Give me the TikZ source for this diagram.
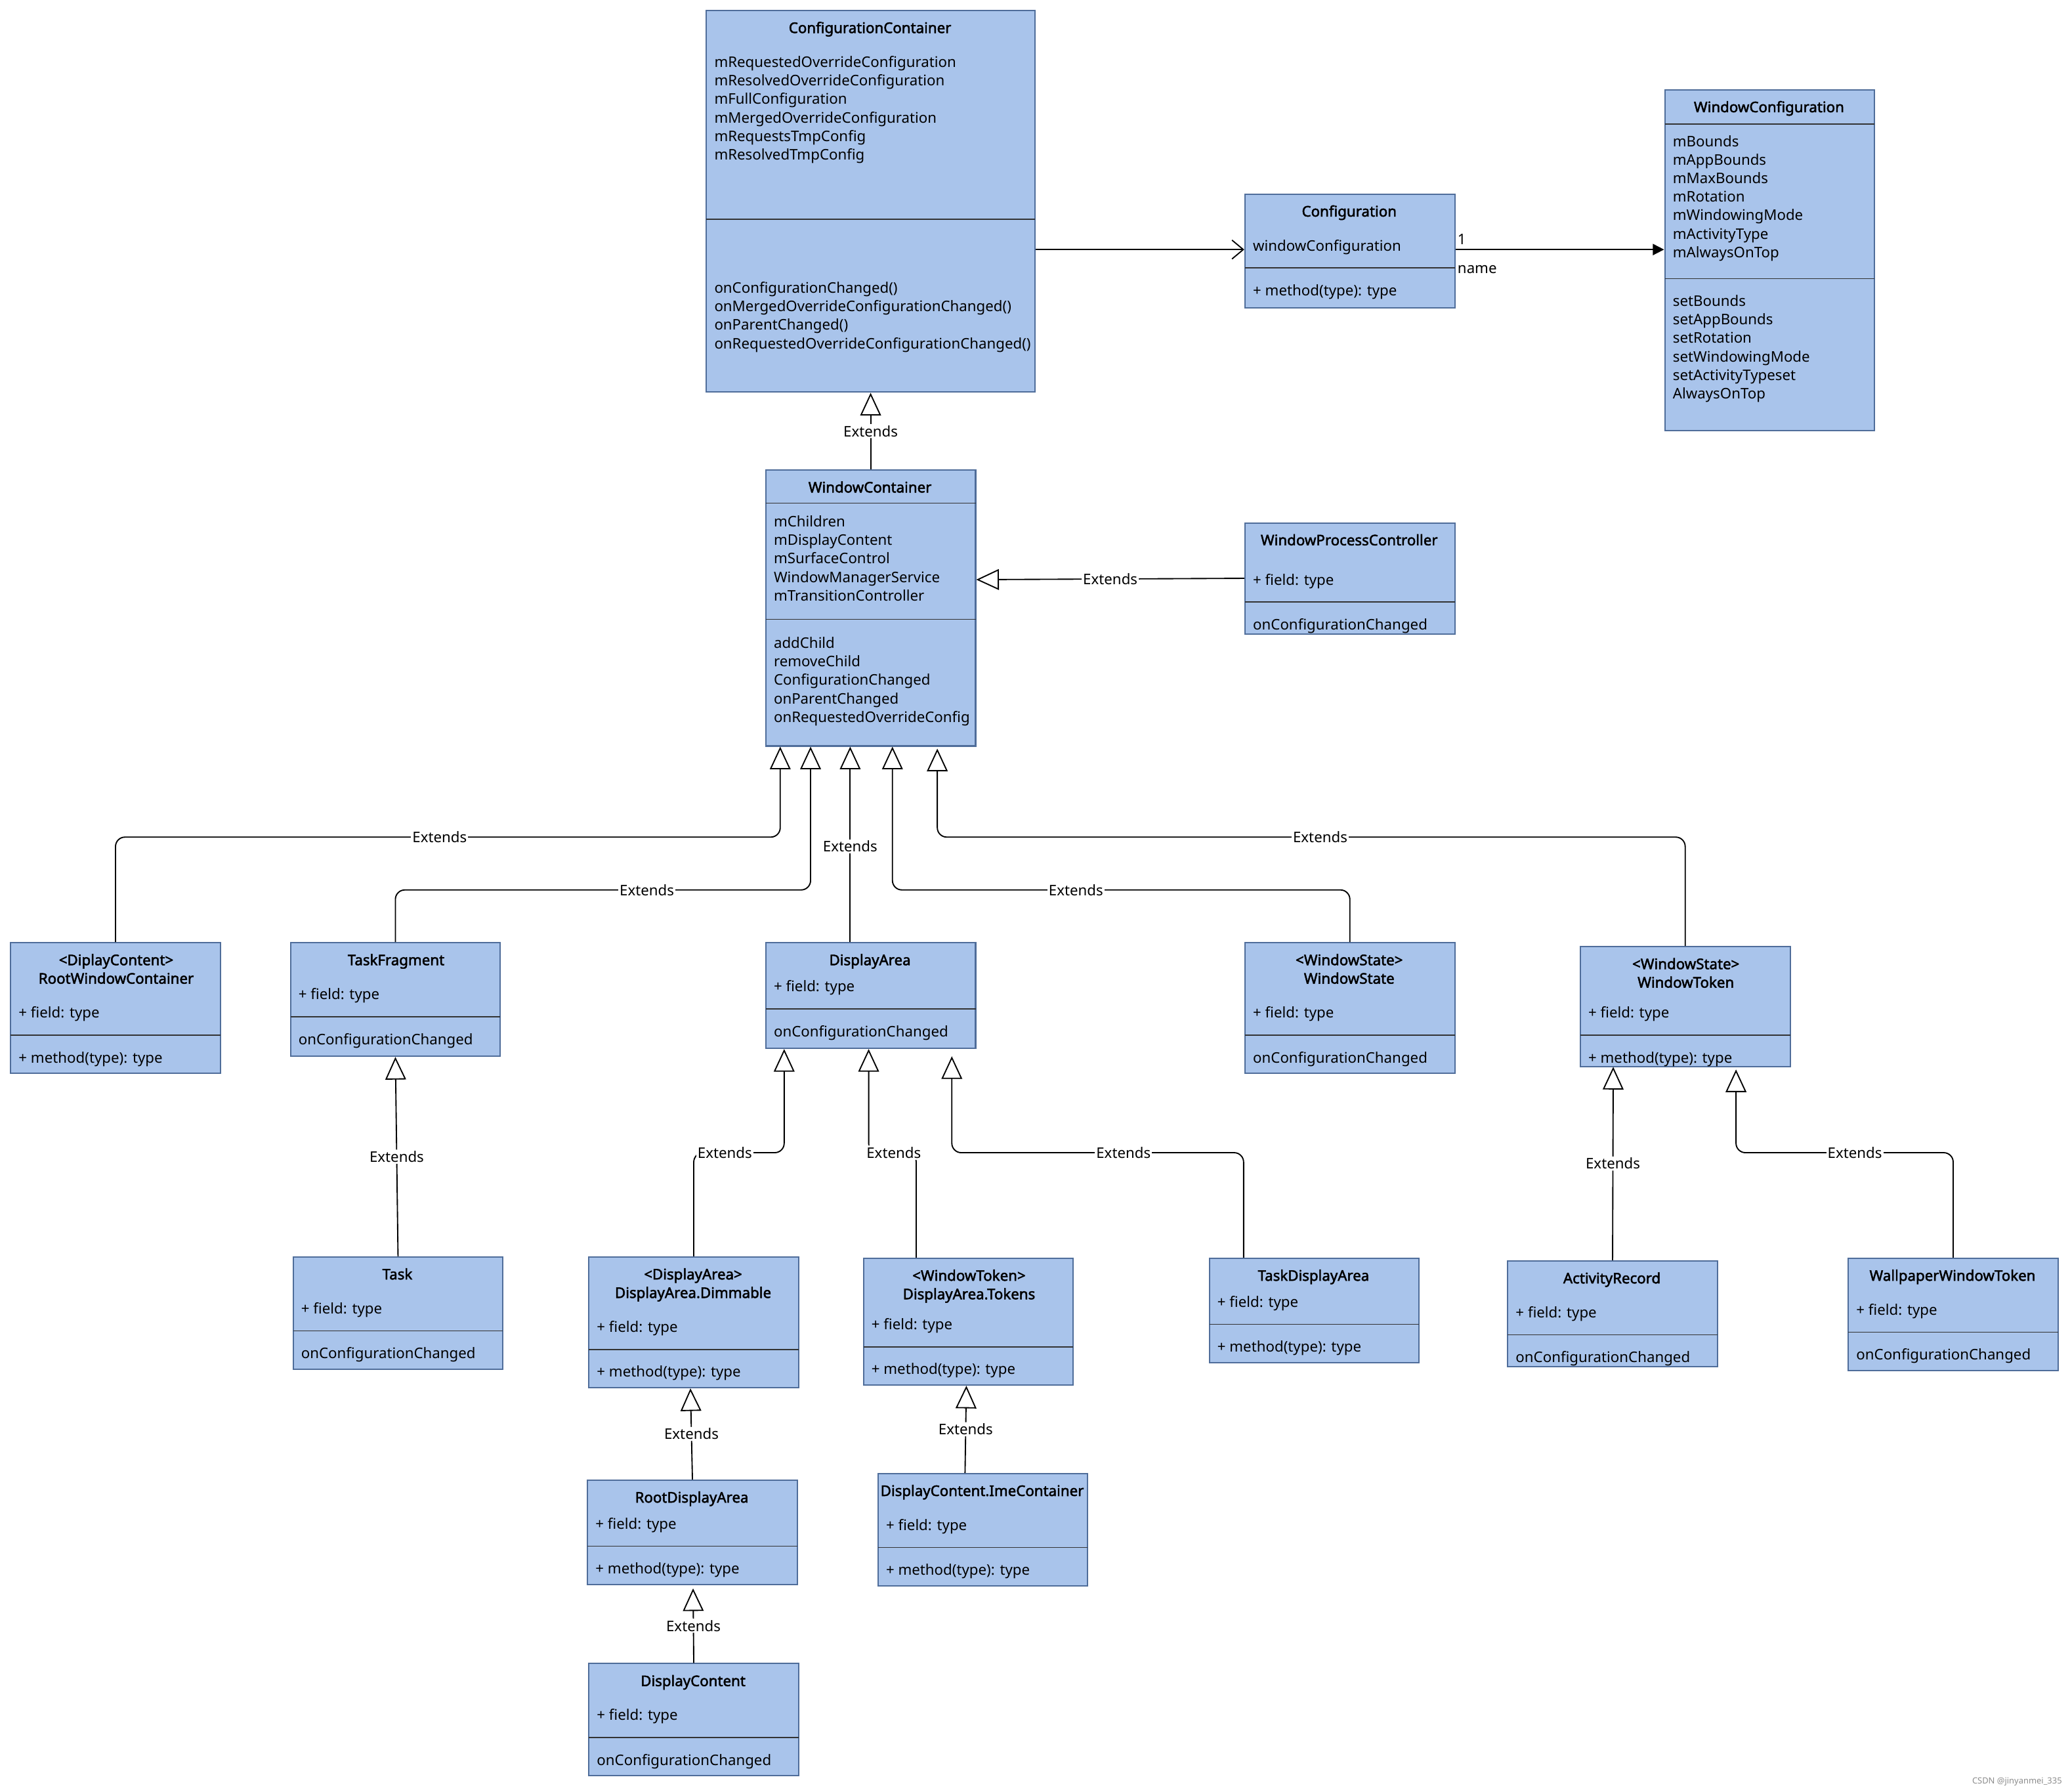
\documentclass[tikz,border=0pt]{standalone}
\usepackage{fontspec}
\setmainfont{Noto Sans}[AutoFakeBold=2.2]
\usetikzlibrary{arrows.meta}
\definecolor{boxfill}{HTML}{A9C4EB}
\definecolor{boxline}{HTML}{4F6D9A}
\tikzset{
  ubox/.style={draw=boxline, fill=boxfill, line width=1.4pt, inner sep=0pt},
  sep/.style={draw=black!80, line width=1.2pt},
  txt/.style={inner sep=0pt, font=\fontsize{15.5}{17}\selectfont},
  ttl/.style={inner sep=0pt, font=\fontsize{15.5}{17}\selectfont\bfseries, anchor=base},
  ext/.style={draw, line width=1.3pt, rounded corners=10pt, -{Triangle[open, width=22pt, length=24pt]}},
  elab/.style={fill=white, inner sep=1.5pt, font=\fontsize{15.5}{17}\selectfont},
}
\newcommand\ubox[5]{\node[ubox, minimum width=\fpeval{(#4-#2)*1.4}pt, minimum height=\fpeval{(#5-#3)*1.4}pt] (#1) at ({(#2+#4)/2},{(#3+#5)/2}) {};}
\newcommand\sepl[3]{\draw[sep] (#1,#3) -- (#2,#3);}
\newcommand\lns[3]{\foreach \t [count=\i] in {#3} {\node[txt, anchor=base west] at (#1,{#2+4+(\i-1)*14}) {\t};}}
\newcommand\ttl[3]{\foreach \t [count=\i] in {#3} {\node[ttl] at (#1,{#2+4+(\i-1)*14}) {\t};}}
\begin{document}
\begin{tikzpicture}[x=1.4pt, y=-1.4pt]
\useasboundingbox[fill=white] (0,0) rectangle (1568,1357);
% ConfigurationContainer
\ubox{cc}{535}{8}{784}{297}
\ttl{659}{21}{ConfigurationContainer}
\lns{541}{47}{mRequestedOverrideConfiguration,mResolvedOverrideConfiguration,mFullConfiguration,mMergedOverrideConfiguration,mRequestsTmpConfig,mResolvedTmpConfig}
\sepl{535}{784}{166}
\begin{scope}
\clip (535,8) rectangle (784,297);
\lns{541}{218}{onConfigurationChanged(),onMergedOverrideConfigurationChanged(),onParentChanged(),onRequestedOverrideConfigurationChanged()}
\end{scope}
% Configuration
\ubox{cf}{943}{147}{1102}{233}
\ttl{1022}{160}{Configuration}
\lns{949}{186}{windowConfiguration}
\sepl{943}{1102}{203}
\lns{949}{220}{+ method(type): type}
% WindowConfiguration
\ubox{wcf}{1261}{68}{1420}{326}
\ttl{1340}{81}{WindowConfiguration}
\sepl{1261}{1420}{94}
\lns{1267}{107}{mBounds,mAppBounds,mMaxBounds,mRotation,mWindowingMode,mActivityType,mAlwaysOnTop}
\sepl{1261}{1420}{211}
\lns{1267}{228}{setBounds,setAppBounds,setRotation,setWindowingMode,setActivityTypeset,AlwaysOnTop}
% WindowContainer
\ubox{wc}{580}{356}{739}{565}
\ttl{659}{369}{WindowContainer}
\sepl{580}{739}{381}
\lns{586}{395}{mChildren,mDisplayContent,mSurfaceControl,WindowManagerService,mTransitionController}
\sepl{580}{739}{469}
\begin{scope}
\clip (580,356) rectangle (739,565);
\lns{586}{487}{addChild,removeChild,ConfigurationChanged,onParentChanged,onRequestedOverrideConfig}
\end{scope}
% WindowProcessController
\ubox{wpc}{943}{396}{1102}{480}
\ttl{1022}{409}{WindowProcessController}
\lns{949}{439}{+ field: type}
\sepl{943}{1102}{456}
\lns{949}{473}{onConfigurationChanged}
% RootWindowContainer
\ubox{rwc}{8}{714}{167}{813}
\ttl{88}{727}{<DiplayContent>,RootWindowContainer}
\lns{14}{767}{+ field: type}
\sepl{8}{167}{784}
\lns{14}{801}{+ method(type): type}
% TaskFragment
\ubox{tf}{220}{714}{379}{800}
\ttl{300}{727}{TaskFragment}
\lns{226}{753}{+ field: type}
\sepl{220}{379}{770}
\lns{226}{787}{onConfigurationChanged}
% DisplayArea
\ubox{da}{580}{714}{739}{794}
\ttl{659}{727}{DisplayArea}
\lns{586}{747}{+ field: type}
\sepl{580}{739}{764}
\lns{586}{781}{onConfigurationChanged}
% WindowState
\ubox{ws}{943}{714}{1102}{813}
\ttl{1022}{727}{<WindowState>,WindowState}
\lns{949}{767}{+ field: type}
\sepl{943}{1102}{784}
\lns{949}{801}{onConfigurationChanged}
% WindowToken
\ubox{wt}{1197}{717}{1356}{808}
\ttl{1277}{730}{<WindowState>,WindowToken}
\lns{1203}{767}{+ field: type}
\sepl{1197}{1356}{784}
\lns{1203}{801}{+ method(type): type}
% Task
\ubox{tk}{222}{952}{381}{1037}
\ttl{301}{965}{Task}
\lns{228}{991}{+ field: type}
\sepl{222}{381}{1008}
\lns{228}{1025}{onConfigurationChanged}
% Dimmable
\ubox{dim}{446}{952}{605}{1051}
\ttl{525}{965}{<DisplayArea>,DisplayArea.Dimmable}
\lns{452}{1005}{+ field: type}
\sepl{446}{605}{1022}
\lns{452}{1039}{+ method(type): type}
% Tokens
\ubox{tok}{654}{953}{813}{1049}
\ttl{734}{966}{<WindowToken>,DisplayArea.Tokens}
\lns{660}{1003}{+ field: type}
\sepl{654}{813}{1020}
\lns{660}{1037}{+ method(type): type}
% TaskDisplayArea
\ubox{tda}{916}{953}{1075}{1032}
\ttl{995}{966}{TaskDisplayArea}
\lns{922}{986}{+ field: type}
\sepl{916}{1075}{1003}
\lns{922}{1020}{+ method(type): type}
% ActivityRecord
\ubox{ar}{1142}{955}{1301}{1035}
\ttl{1221}{968}{ActivityRecord}
\lns{1148}{994}{+ field: type}
\sepl{1142}{1301}{1011}
\lns{1148}{1028}{onConfigurationChanged}
% WallpaperWindowToken
\ubox{wwt}{1400}{953}{1559}{1038}
\ttl{1479}{966}{WallpaperWindowToken}
\lns{1406}{992}{+ field: type}
\sepl{1400}{1559}{1009}
\lns{1406}{1026}{onConfigurationChanged}
% RootDisplayArea
\ubox{rda}{445}{1121}{604}{1200}
\ttl{524}{1134}{RootDisplayArea}
\lns{451}{1154}{+ field: type}
\sepl{445}{604}{1171}
\lns{451}{1188}{+ method(type): type}
% ImeContainer
\ubox{ime}{665}{1116}{824}{1201}
\ttl{744}{1129}{DisplayContent.ImeContainer}
\lns{671}{1155}{+ field: type}
\sepl{665}{824}{1172}
\lns{671}{1189}{+ method(type): type}
% DisplayContent
\ubox{dc}{446}{1260}{605}{1345}
\ttl{525}{1273}{DisplayContent}
\lns{452}{1299}{+ field: type}
\sepl{446}{605}{1316}
\lns{452}{1333}{onConfigurationChanged}
% connectors
\draw[ext] (wc.north) -- (cc.south) node[elab, pos=0.5] {Extends};
\draw[ext] (wpc.west |- 0,438) -- (wc.east |- 0,439) node[elab, pos=0.5] {Extends};
\draw[ext] (rwc.north) |- (591,634) -- (591,0 |- wc.south);
\node[elab] at (333,634) {Extends};
\draw[ext] (tf.north) |- (614,674) -- (614,0 |- wc.south);
\node[elab] at (490,674) {Extends};
\draw[ext] (644,0 |- da.north) -- (644,0 |- wc.south);
\node[elab] at (644,641) {Extends};
\draw[ext] (ws.north) |- (676,674) -- (676,0 |- wc.south);
\node[elab] at (815,674) {Extends};
\draw[ext] (wt.north) |- (710,634) -- (710,567);
\node[elab] at (1000,634) {Extends};
\draw[ext] (tk.north) -- (tf.south) node[elab, pos=0.5] {Extends};
\draw[ext] (dim.north) |- (594,873) -- (594,0 |- da.south);
\node[elab] at (549,873) {Extends};
\draw[ext] (694,0 |- tok.north) |- (658,873) -- (658,0 |- da.south);
\node[elab] at (677,873) {Extends};
\draw[ext] (942,0 |- tda.north) |- (721,873) -- (721,800);
\node[elab] at (851,873) {Extends};
\draw[ext] (ar.north) -- (1222,808) node[elab, pos=0.5] {Extends};
\draw[ext] (wwt.north) |- (1315,873) -- (1315,810);
\node[elab] at (1405,873) {Extends};
\draw[ext] (rda.north) -- (523,0 |- dim.south) node[elab, pos=0.5] {Extends};
\draw[ext] (dc.north) -- (525,1203) node[elab, pos=0.5] {Extends};
\draw[ext] (731,0 |- ime.north) -- (732,0 |- tok.south) node[elab, pos=0.5] {Extends};
\draw[line width=1.3pt, -{Straight Barb[width=20pt, length=12pt]}] (cc.east |- 0,189) -- (cf.west |- 0,189);
\draw[line width=1.3pt, -{Triangle[width=12pt, length=12pt]}] (cf.east |- 0,189) -- (wcf.west |- 0,189);
\node[txt, anchor=base west] at (1104,185) {1};
\node[txt, anchor=base west] at (1104,207) {name};
\node[inner sep=0pt, font=\fontsize{9}{10}\selectfont, text=black!45, anchor=base east] at (1562,1351) {CSDN @jinyanmei\_335};
\end{tikzpicture}
\end{document}
